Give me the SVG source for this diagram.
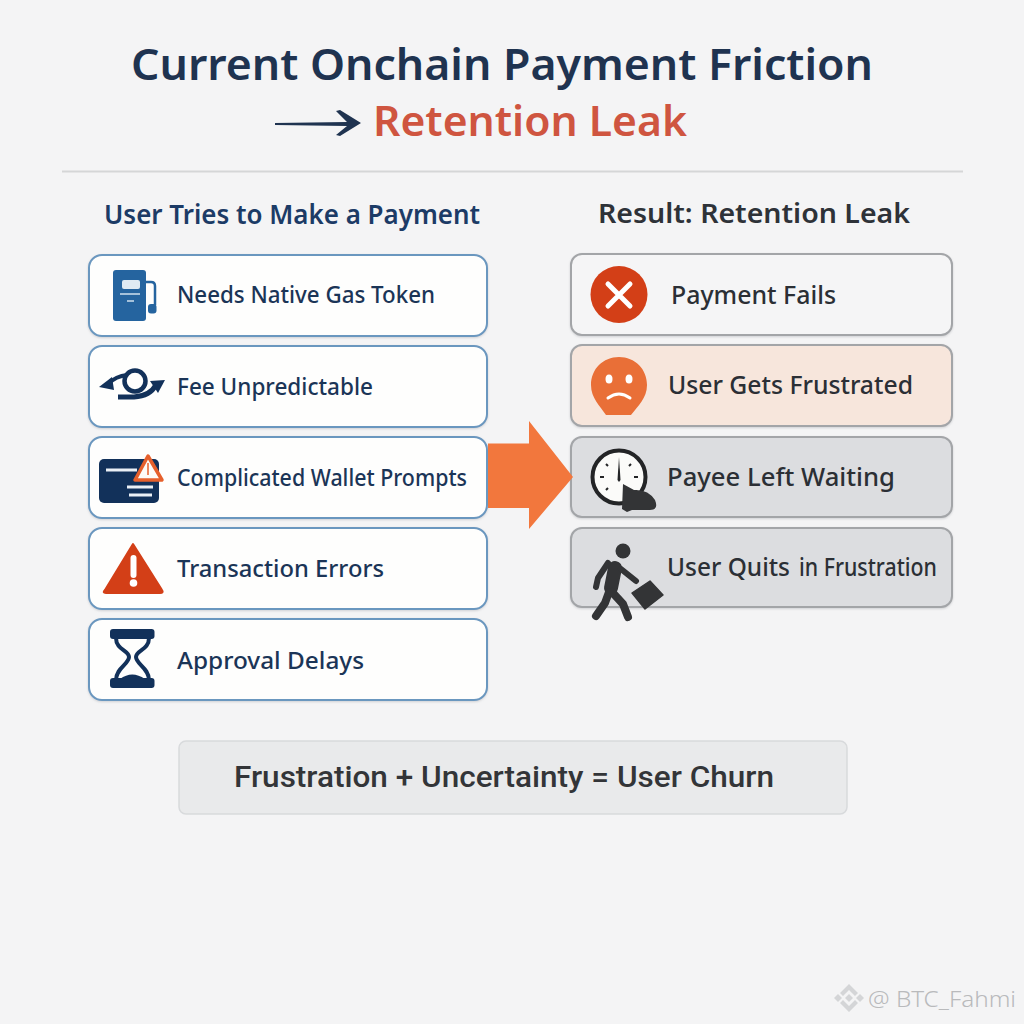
<svg xmlns="http://www.w3.org/2000/svg" width="1024" height="1024" viewBox="0 0 1024 1024">
<defs>
<filter id="sh" x="-5%" y="-10%" width="110%" height="125%"><feDropShadow dx="0" dy="1" stdDeviation="1.2" flood-color="#8a8f96" flood-opacity="0.35"/></filter>
</defs>
<style>
text{font-family:"Noto Sans","Open Sans","Liberation Sans",sans-serif}
.l{fill:#fefefd;stroke:#6b97bf;stroke-width:2;filter:url(#sh)}
.r{stroke:#a3a5a8;stroke-width:2;filter:url(#sh)}
.lt{font-size:24px;font-weight:500;fill:#1b3557}
.rt{font-size:25px;font-weight:500;fill:#2b2f35}
.h{font-size:27px;font-weight:600}
.navy{fill:#12315a}
.dk{fill:#333436}
.limb{fill:none;stroke:#333436;stroke-linecap:round;stroke-linejoin:round}
</style>
<rect width="1024" height="1024" fill="#f4f4f5"/>
<g id="title">
<text x="502" y="80" text-anchor="middle" font-size="44" font-weight="600" fill="#1f3350" textLength="742" lengthAdjust="spacingAndGlyphs">Current Onchain Payment Friction</text>
<text x="373" y="136" font-size="42" font-weight="600" fill="#cf5540" textLength="314" lengthAdjust="spacingAndGlyphs">Retention Leak</text>
<path d="M275 123L347 122L336 111L340 110L361 123L340 136L336 135L347 126L275 125Z" fill="#1f3350"/>
</g>
<line x1="62" y1="171.500" x2="963" y2="171.500" stroke="#d5d6d7" stroke-width="2"/>
<text id="left-heading" x="104" y="224" class="h" fill="#1c3b66" textLength="376" lengthAdjust="spacingAndGlyphs">User Tries to Make a Payment</text>
<text id="right-heading" x="598" y="223" class="h" fill="#2e3238" textLength="312" lengthAdjust="spacingAndGlyphs">Result: Retention Leak</text>

<g id="gas-token">
<rect class="l" x="89" y="255" width="398" height="81" rx="13"/>
<rect x="113" y="270" width="33" height="51" rx="3" fill="#25649f"/>
<rect x="122" y="280" width="18" height="9" rx="2" fill="#dfeaf3"/>
<path d="M120 294H140" stroke="#cfe0ee" stroke-width="1.500"/>
<path d="M127 301H134" stroke="#cfe0ee" stroke-width="1.500"/>
<path d="M146 282H151Q155 282 155 286V305" fill="none" stroke="#25649f" stroke-width="2.500"/>
<rect x="148" y="304" width="8.500" height="9.500" rx="3" fill="#25649f"/>
<text class="lt" x="177" y="303" textLength="258" lengthAdjust="spacingAndGlyphs">Needs Native Gas Token</text>
</g>
<g id="fee">
<rect class="l" x="89" y="346" width="398" height="81" rx="13"/>
<circle cx="135" cy="381" r="10.500" fill="none" stroke="#12315a" stroke-width="4.500"/>
<path d="M108 384Q116 376 127 375" fill="none" stroke="#12315a" stroke-width="4"/>
<path d="M99 387L112 377L114 390Z" class="navy"/>
<path d="M118 397H134Q150 396 156 385" fill="none" stroke="#12315a" stroke-width="5"/>
<path d="M165 380L150 381L158 393Z" class="navy"/>
<text class="lt" x="177" y="395" textLength="196" lengthAdjust="spacingAndGlyphs">Fee Unpredictable</text>
</g>
<g id="wallet">
<rect class="l" x="89" y="437" width="398" height="81" rx="13"/>
<rect x="99" y="459" width="60" height="44" rx="5" class="navy"/>
<path d="M106 470H137M127 487H153M129 495H152" stroke="#eaf0f6" stroke-width="3" fill="none"/>
<path d="M148 456L162 480H135Z" fill="#fdfbf8" stroke="#e6602c" stroke-width="3.500" stroke-linejoin="round"/>
<path d="M148 463V475" stroke="#e6602c" stroke-width="1.500"/>
<text class="lt" x="177" y="486" textLength="290" lengthAdjust="spacingAndGlyphs">Complicated Wallet Prompts</text>
</g>
<g id="errors">
<rect class="l" x="89" y="528" width="398" height="81" rx="13"/>
<path d="M133 544L162 590Q164 593 160 593H106Q102 593 105 590Z" fill="#d33f17" stroke="#d33f17" stroke-width="2" stroke-linejoin="round"/>
<path d="M133.500 558V575" stroke="#fff" stroke-width="6" stroke-linecap="round"/>
<circle cx="133.500" cy="583" r="3.800" fill="#fff"/>
<text class="lt" x="177" y="577" textLength="207" lengthAdjust="spacingAndGlyphs">Transaction Errors</text>
</g>
<g id="delays">
<rect class="l" x="89" y="619" width="398" height="81" rx="13"/>
<rect x="110" y="629" width="44.500" height="10" rx="3" class="navy"/>
<rect x="110" y="678" width="44.500" height="10" rx="3" class="navy"/>
<path d="M116 638C116 650 129 650 129 657C129 664 116 668 116 680M149 638C149 650 136 650 136 657C136 664 149 668 149 680" fill="none" stroke="#12315a" stroke-width="4"/>
<path d="M120 679Q132 670 145 679Z" class="navy"/>
<text class="lt" x="177" y="669" textLength="187" lengthAdjust="spacingAndGlyphs">Approval Delays</text>
</g>

<g id="payment-fails">
<rect class="r" x="571" y="254" width="381" height="81" rx="11" fill="#f5f5f6"/>
<circle cx="619" cy="294.500" r="28.500" fill="#d33f17"/>
<path d="M608 284L630 306M630 284L608 306" stroke="#fff" stroke-width="5" stroke-linecap="round"/>
<text class="rt" x="671" y="304" textLength="165" lengthAdjust="spacingAndGlyphs">Payment Fails</text>
</g>
<g id="frustrated">
<rect class="r" x="571" y="345" width="381" height="81" rx="11" fill="#f7e6dc" stroke="#c9b4a8"/>
<path d="M619 357C635 357 647 369 647 385C647 398 638 406 631 415H606C600 406 591 398 591 385C591 369 603 357 619 357Z" fill="#e96f37"/>
<ellipse cx="609" cy="379" rx="3.500" ry="4.500" fill="#fff"/>
<ellipse cx="629" cy="379" rx="3.500" ry="4.500" fill="#fff"/>
<path d="M608 398Q619 390 630 398" stroke="#fff" stroke-width="3" fill="none" stroke-linecap="round"/>
<text class="rt" x="668" y="394" textLength="245" lengthAdjust="spacingAndGlyphs">User Gets Frustrated</text>
</g>
<g id="payee-waiting">
<rect class="r" x="571" y="437" width="381" height="80" rx="11" fill="#dcdde0"/>
<circle cx="619" cy="477" r="26.500" fill="#fbfbf9" stroke="#232426" stroke-width="4"/>
<path d="M619 457L620.500 480L619 482L617.500 480Z" fill="#232426"/>
<path d="M600 477H604M634 477H638M606 464L608 466M606 490L608 488M631 464L629 466" stroke="#232426" stroke-width="2"/>
<path d="M623 484L634 490Q648 489 655 500Q659 510 650 510H632L627 512L622 509Z" class="dk"/>
<text class="rt" x="667" y="486" textLength="228" lengthAdjust="spacingAndGlyphs">Payee Left Waiting</text>
</g>
<g id="user-quits">
<rect class="r" x="571" y="528" width="381" height="79" rx="11" fill="#dcdde0"/>
<circle cx="623" cy="551" r="7.500" class="dk"/>
<path class="limb" stroke-width="14" d="M615 568L611 588"/>
<path class="limb" stroke-width="6" d="M608 563L598 578L596 587M621 569L636 581"/>
<path class="limb" stroke-width="8" d="M609 592L605 603L596 616M612 592L623 604L628 617"/>
<path d="M632 593L650 581L663 595L645 609Z" class="dk" stroke="#333436" stroke-width="1.500" stroke-linejoin="round"/>
<text class="rt" x="667" y="576"><tspan textLength="123" lengthAdjust="spacingAndGlyphs">User Quits</tspan><tspan x="799" textLength="138" lengthAdjust="spacingAndGlyphs">in Frustration</tspan></text>
</g>
<g id="connectors">
<path d="M488 443.500H529V421L573 477L529 529V508H488Z" fill="#f2773d"/>
</g>
<g id="summary">
<rect x="179" y="741" width="668" height="73" rx="7" fill="#e9eaeb" stroke="#d8dadc" stroke-width="1.500"/>
<text x="504" y="787" text-anchor="middle" font-size="29" font-weight="500" style="font-family:Roboto,'Liberation Sans',Arial,sans-serif" fill="#333538" textLength="540" lengthAdjust="spacingAndGlyphs">Frustration + Uncertainty = User Churn</text>
</g>
<g id="watermark">
<path d="M849 984L858 993L855 996L849 990L843 996L840 993ZM849 1012L858 1003L855 1000L849 1006L843 1000L840 1003ZM849 994L853 998L849 1002L845 998ZM838 994L842 998L838 1002L834 998ZM860 994L864 998L860 1002L856 998Z" fill="#d4d5d7"/>
<text x="868" y="1007" font-size="22" font-weight="300" fill="#b9babc" textLength="148" lengthAdjust="spacingAndGlyphs">@ BTC_Fahmi</text>
</g>
</svg>
